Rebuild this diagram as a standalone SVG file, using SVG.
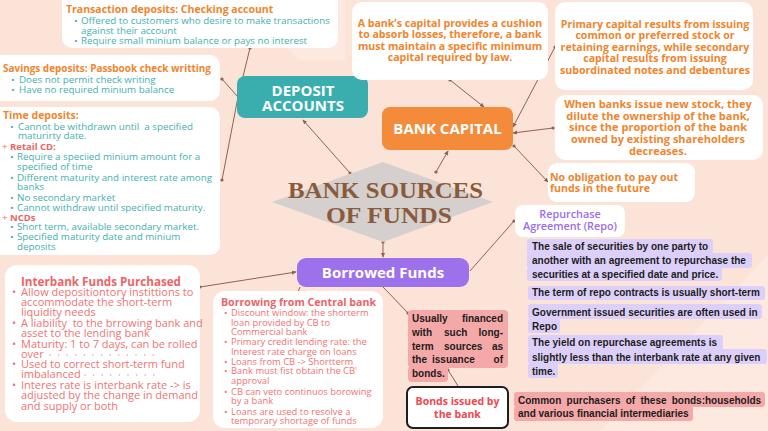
<svg xmlns="http://www.w3.org/2000/svg" width="768" height="431" viewBox="0 0 768 431">
<style>
.bg{fill:#fce3d7}
.card{fill:#ffffff}
.hd{font-family:"Open Sans","Liberation Sans",sans-serif;font-weight:700;font-size:10.5px;fill:#f0852d}
.tl{font-family:"Open Sans","Liberation Sans",sans-serif;font-size:9.8px;fill:#3fb0ae}
.rd{font-family:"Open Sans","Liberation Sans",sans-serif;font-weight:700;fill:#ec6466}
.pl{font-family:"Open Sans","Liberation Sans",sans-serif;fill:#ef7374}
.cap{font-family:"Open Sans","Liberation Sans",sans-serif;font-weight:700;fill:#f0852d;text-anchor:middle}
.hub{font-family:"Open Sans","Liberation Sans",sans-serif;font-weight:700;font-size:15px;fill:#ffffff;text-anchor:middle}
.bk{font-family:"Liberation Sans",Arial,sans-serif;font-weight:700;font-size:10px;fill:#1c1c1c}
.lav{fill:#dcd0fa}
.pnk{fill:#f5a8a8}
.con{fill:none;stroke:#8d6350;stroke-width:1}
</style>
<defs>
<marker id="dot" viewBox="0 0 4 4" refX="2" refY="2" markerWidth="4" markerHeight="4" markerUnits="userSpaceOnUse"><circle cx="2" cy="2" r="1.6" fill="#8d6350"/></marker>
<marker id="arr" viewBox="0 0 6 6" refX="5" refY="3" markerWidth="5" markerHeight="5" markerUnits="userSpaceOnUse" orient="auto"><path d="M0,0.5 L6,3 L0,5.5 Z" fill="#8d6350"/></marker>
</defs>
<rect class="bg" x="0" y="0" width="768" height="431"/>
<polygon points="600,431 768,255 768,431" fill="#fde9df"/>
<polygon points="230,0 345,0 345,60 300,60" fill="#fde9df"/>

<g id="connectors">
<line class="con" x1="238" y1="97" x2="250" y2="48" marker-end="url(#dot)"/>
<line class="con" x1="238" y1="97" x2="222" y2="180" marker-end="url(#dot)"/>
<line class="con" x1="238" y1="97" x2="222" y2="79" marker-end="url(#dot)"/>
<line class="con" x1="350" y1="173" x2="303" y2="120" marker-start="url(#dot)" marker-end="url(#arr)"/>
<line class="con" x1="450" y1="80" x2="484" y2="107" marker-start="url(#dot)" marker-end="url(#arr)"/>
<line class="con" x1="555" y1="47" x2="513" y2="127" marker-start="url(#dot)" marker-end="url(#arr)"/>
<line class="con" x1="553" y1="128" x2="513" y2="133" marker-start="url(#dot)" marker-end="url(#arr)"/>
<line class="con" x1="514" y1="146" x2="548" y2="182" marker-start="url(#dot)" marker-end="url(#arr)"/>
<line class="con" x1="436" y1="172" x2="448" y2="151" marker-start="url(#dot)" marker-end="url(#arr)"/>
<line class="con" x1="383" y1="242" x2="383" y2="257" marker-start="url(#dot)" marker-end="url(#arr)"/>
<line class="con" x1="200" y1="287" x2="296" y2="272" marker-start="url(#dot)" marker-end="url(#arr)"/>
<line class="con" x1="470" y1="271" x2="514" y2="221" marker-end="url(#dot)"/>
<line class="con" x1="383" y1="287" x2="408" y2="313" marker-end="url(#dot)"/>
<line class="con" x1="448" y1="370" x2="458" y2="386" marker-start="url(#dot)"/>
<line class="con" x1="300" y1="287" x2="298" y2="292"/>
</g>

<g id="transaction-deposits">
<rect class="card" x="62" y="-10" width="276" height="58" rx="10"/>
<text class="hd" x="66" y="13">Transaction deposits: Checking account</text>
<text class="tl"><tspan x="74" y="23.5">•</tspan><tspan x="81" y="23.5">Offered to customers who desire to make transactions</tspan><tspan x="81" y="33.5">against their account</tspan><tspan x="74" y="43.5">•</tspan><tspan x="81" y="43.5">Require small minium balance or pays no interest</tspan></text>
</g>

<g id="savings-deposits">
<rect class="card" x="-10" y="55" width="230" height="46" rx="10"/>
<text class="hd" x="3" y="72" textLength="208" lengthAdjust="spacingAndGlyphs" style="font-size:10px">Savings deposits: Passbook check writting</text>
<text class="tl"><tspan x="11" y="83">•</tspan><tspan x="19" y="83">Does not permit check writing</tspan><tspan x="11" y="93">•</tspan><tspan x="19" y="93">Have no required minium balance</tspan></text>
</g>

<g id="time-deposits">
<rect class="card" x="-10" y="107" width="230" height="148" rx="10"/>
<text class="hd" x="3" y="119">Time deposits:</text>
<text class="tl">
<tspan x="10" y="129.5">•</tspan><tspan x="18" y="129.5" xml:space="preserve">Cannot be withdrawn until  a specified</tspan>
<tspan x="18" y="139">maturirty date.</tspan>
<tspan x="10" y="159.5">•</tspan><tspan x="17" y="159.5">Require a speciied minium amount for a</tspan>
<tspan x="17" y="169.5">specified of time</tspan>
<tspan x="10" y="180.5">•</tspan><tspan x="17" y="180.5">Different maturity and interest rate among</tspan>
<tspan x="17" y="190">banks</tspan>
<tspan x="10" y="200.5">•</tspan><tspan x="17" y="200.5">No secondary market</tspan>
<tspan x="10" y="210.5">•</tspan><tspan x="17" y="210.5">Cannot withdraw until specified maturity.</tspan>
<tspan x="10" y="229.5">•</tspan><tspan x="17" y="229.5">Short term, available secondary market.</tspan>
<tspan x="10" y="239.5">•</tspan><tspan x="17" y="239.5">Specified maturity date and minium</tspan>
<tspan x="17" y="249.5">deposits</tspan>
</text>
<text class="rd" style="font-size:9.5px"><tspan x="2" y="149.5" fill="#f3a0a0">+</tspan><tspan x="10" y="149.5">Retail CD:</tspan><tspan x="2" y="220.5" fill="#f3a0a0">+</tspan><tspan x="10" y="220.5">NCDs</tspan></text>
</g>

<g id="interbank-funds">
<rect class="card" x="5" y="265" width="195" height="157" rx="12"/>
<text class="rd" x="21" y="286" style="font-size:12.5px" textLength="160" lengthAdjust="spacingAndGlyphs">Interbank Funds Purchased</text>
<text class="pl" style="font-size:11px">
<tspan x="12" y="296">•</tspan><tspan x="21" y="296">Allow depositiontory instittions to</tspan>
<tspan x="21" y="306">accommodate the short-term</tspan>
<tspan x="21" y="316">liquidity needs</tspan>
<tspan x="12" y="327">•</tspan><tspan x="21" y="327" xml:space="preserve">A liability  to the brrowing bank and</tspan>
<tspan x="21" y="337">asset to the lending bank</tspan>
<tspan x="12" y="347.5">•</tspan><tspan x="21" y="347.5">Maturity: 1 to 7 days, can be rolled</tspan>
<tspan x="21" y="357.5">over</tspan>
<tspan x="12" y="368">•</tspan><tspan x="21" y="368">Used to correct short-term fund</tspan>
<tspan x="21" y="378">imbalanced</tspan>
<tspan x="12" y="388.5">•</tspan><tspan x="21" y="388.5">Interes rate is interbank rate -&gt; is</tspan>
<tspan x="21" y="399">adjusted by the change in demand</tspan>
<tspan x="21" y="409.5">and supply or both</tspan>
</text>
<line x1="50" y1="355" x2="154" y2="355" stroke="#ec9a9a" stroke-width="1.6" stroke-linecap="round" stroke-dasharray="0 8.6"/>
<line x1="85" y1="375" x2="154" y2="375" stroke="#ec9a9a" stroke-width="1.6" stroke-linecap="round" stroke-dasharray="0 8.6"/>
</g>

<g id="central-bank">
<rect class="card" x="213" y="291" width="170" height="137" rx="12"/>
<text class="rd" x="221" y="305.5" style="font-size:11px" textLength="155" lengthAdjust="spacingAndGlyphs">Borrowing from Central bank</text>
<text class="pl" style="font-size:9.4px">
<tspan x="224" y="316">•</tspan><tspan x="231" y="316">Discount window: the shorterm</tspan>
<tspan x="231" y="325.5">loan provided by CB to</tspan>
<tspan x="231" y="335">Commercial bank</tspan>
<tspan x="224" y="345.2">•</tspan><tspan x="231" y="345.2">Primary credit lending rate: the</tspan>
<tspan x="231" y="354.5">Interest rate charge on loans</tspan>
<tspan x="224" y="364.5">•</tspan><tspan x="231" y="364.5">Loans from CB -&gt; Shortterm</tspan>
<tspan x="224" y="373.5">•</tspan><tspan x="231" y="373.5">Bank must fist obtain the CB'</tspan>
<tspan x="231" y="383.5">approval</tspan>
<tspan x="224" y="394.5">•</tspan><tspan x="231" y="394.5">CB can veto continuos borowing</tspan>
<tspan x="231" y="403.5">by a bank</tspan>
<tspan x="224" y="414.5">•</tspan><tspan x="231" y="414.5">Loans are used to resolve a</tspan>
<tspan x="231" y="424">temporary shortage of funds</tspan>
</text>
</g>

<g id="deposit-accounts">
<rect x="237" y="76" width="131" height="42" rx="8" fill="#3aaeae"/>
<text class="hub" x="303" y="95.5">DEPOSIT</text>
<text class="hub" x="303" y="110.5">ACCOUNTS</text>
</g>

<g id="bank-capital">
<rect x="382" y="107" width="131" height="43" rx="8" fill="#f38b3a"/>
<text class="hub" x="447.5" y="133.5">BANK CAPITAL</text>
</g>

<g id="bank-sources">
<polygon points="272,202 383,162 493,202 383,242" fill="#d5d0cd"/>
<text x="288" y="198.3" textLength="195" lengthAdjust="spacingAndGlyphs" font-family="'Liberation Serif','DejaVu Serif',serif" font-weight="700" font-size="24" fill="#8a5a3c">BANK SOURCES</text>
<text x="326" y="223.3" textLength="126" lengthAdjust="spacingAndGlyphs" font-family="'Liberation Serif','DejaVu Serif',serif" font-weight="700" font-size="24" fill="#8a5a3c">OF FUNDS</text>
</g>

<g id="borrowed-funds">
<rect x="297" y="258" width="172" height="29" rx="9" fill="#9d70ec"/>
<text class="hub" x="383" y="277.5">Borrowed Funds</text>
</g>

<g id="capital-cushion">
<rect class="card" x="352" y="2" width="196" height="78" rx="10"/>
<text class="cap" style="font-size:10.6px"><tspan x="450" y="27">A bank’s capital provides a cushion</tspan><tspan x="450" y="38">to absorb losses, therefore, a bank</tspan><tspan x="450" y="49.5">must maintain a specific minimum</tspan><tspan x="450" y="61">capital required by law.</tspan></text>
</g>

<g id="primary-capital">
<rect class="card" x="555" y="2" width="198" height="88" rx="10"/>
<text class="cap" style="font-size:10.6px"><tspan x="655" y="28">Primary capital results from issuing</tspan><tspan x="655" y="39">common or preferred stock or</tspan><tspan x="655" y="50.5">retaining earnings, while secondary</tspan><tspan x="655" y="62">capital results from issuing</tspan><tspan x="655" y="73.5">subordinated notes and debentures</tspan></text>
</g>

<g id="dilute">
<rect class="card" x="555" y="95" width="208" height="65" rx="10"/>
<text class="cap" style="font-size:11px"><tspan x="658" y="108">When banks issue new stock, they</tspan><tspan x="658" y="119.5">dilute the ownership of the bank,</tspan><tspan x="658" y="131">since the proportion of the bank</tspan><tspan x="658" y="143">owned by existing shareholders</tspan><tspan x="658" y="154.5">decreases.</tspan></text>
</g>

<g id="no-obligation">
<rect class="card" x="548" y="163" width="147" height="39" rx="9"/>
<text class="cap" style="font-size:10.6px;text-anchor:start"><tspan x="550" y="180.5">No obligation to pay out</tspan><tspan x="550" y="192">funds in the future</tspan></text>
</g>

<g id="repo">
<rect class="card" x="515" y="205" width="110" height="32" rx="8"/>
<text font-family="'Open Sans','Liberation Sans',sans-serif" font-weight="600" font-size="10.8" fill="#9a6cf0" text-anchor="middle"><tspan x="570" y="218">Repurchase</tspan><tspan x="570" y="229.5">Agreement (Repo)</tspan></text>
</g>

<g id="repo-details">
<rect class="lav" x="527" y="239" width="186" height="15" rx="3"/>
<rect class="lav" x="527" y="253" width="225" height="15" rx="3"/>
<rect class="lav" x="527" y="267" width="195" height="14" rx="3"/>
<rect class="lav" x="528" y="286" width="237" height="14" rx="3"/>
<rect class="lav" x="528" y="304" width="234" height="15" rx="3"/>
<rect class="lav" x="528" y="318" width="32" height="15" rx="3"/>
<rect class="lav" x="528" y="335" width="195" height="15" rx="3"/>
<rect class="lav" x="528" y="349" width="239" height="15" rx="3"/>
<rect class="lav" x="528" y="363" width="30" height="15" rx="3"/>
<text class="bk"><tspan x="532" y="249.5">The sale of securities by one party to</tspan><tspan x="532" y="263.5">another with an agreement to repurchase the</tspan><tspan x="532" y="277.5">securities at a specified date and price.</tspan><tspan x="532" y="295.5">The term of repo contracts is usually short-term</tspan><tspan x="532" y="315.5">Government issued securities are often used in</tspan><tspan x="532" y="329.5">Repo</tspan><tspan x="532" y="345.5">The yield on repurchase agreements is</tspan><tspan x="532" y="360.5">slightly less than the interbank rate at any given</tspan><tspan x="532" y="374.5">time.</tspan></text>
</g>

<g id="usually-financed">
<rect class="pnk" x="408" y="310" width="100" height="58" rx="4"/>
<rect class="pnk" x="408" y="366" width="40" height="16" rx="4"/>
<text class="bk" x="412" y="322">Usually</text><text class="bk" x="503" y="322" text-anchor="end">financed</text>
<text class="bk" x="412" y="335.5">with</text><text class="bk" x="444" y="335.5">such</text><text class="bk" x="503" y="335.5" text-anchor="end">long-</text>
<text class="bk" x="412" y="349.5">term</text><text class="bk" x="444" y="349.5">sources</text><text class="bk" x="503" y="349.5" text-anchor="end">as</text>
<text class="bk" x="412" y="362.5">the</text><text class="bk" x="432" y="362.5">issuance</text><text class="bk" x="503" y="362.5" text-anchor="end">of</text>
<text class="bk" x="412" y="376.5">bonds.</text>
</g>

<g id="bonds-issued">
<rect x="407" y="387" width="101" height="41" rx="6" fill="#ffffff" stroke="#1e1e1e" stroke-width="2"/>
<text font-family="'Open Sans','Liberation Sans',sans-serif" font-weight="700" font-size="10.5" fill="#f2474e" text-anchor="middle"><tspan x="457.5" y="404.5">Bonds issued by</tspan><tspan x="457.5" y="417.5">the bank</tspan></text>
</g>

<g id="bond-purchasers">
<rect class="pnk" x="514" y="392" width="251" height="15" rx="3"/>
<rect class="pnk" x="514" y="406" width="179" height="15" rx="3"/>
<text class="bk"><tspan x="518" y="403.5">Common</tspan><tspan x="566.6" y="403.5">purchasers</tspan><tspan x="625.7" y="403.5">of</tspan><tspan x="640.4" y="403.5">these</tspan><tspan x="671.7" y="403.5">bonds:households</tspan><tspan x="518" y="417">and various financial intermediaries</tspan></text>
</g>
</svg>
